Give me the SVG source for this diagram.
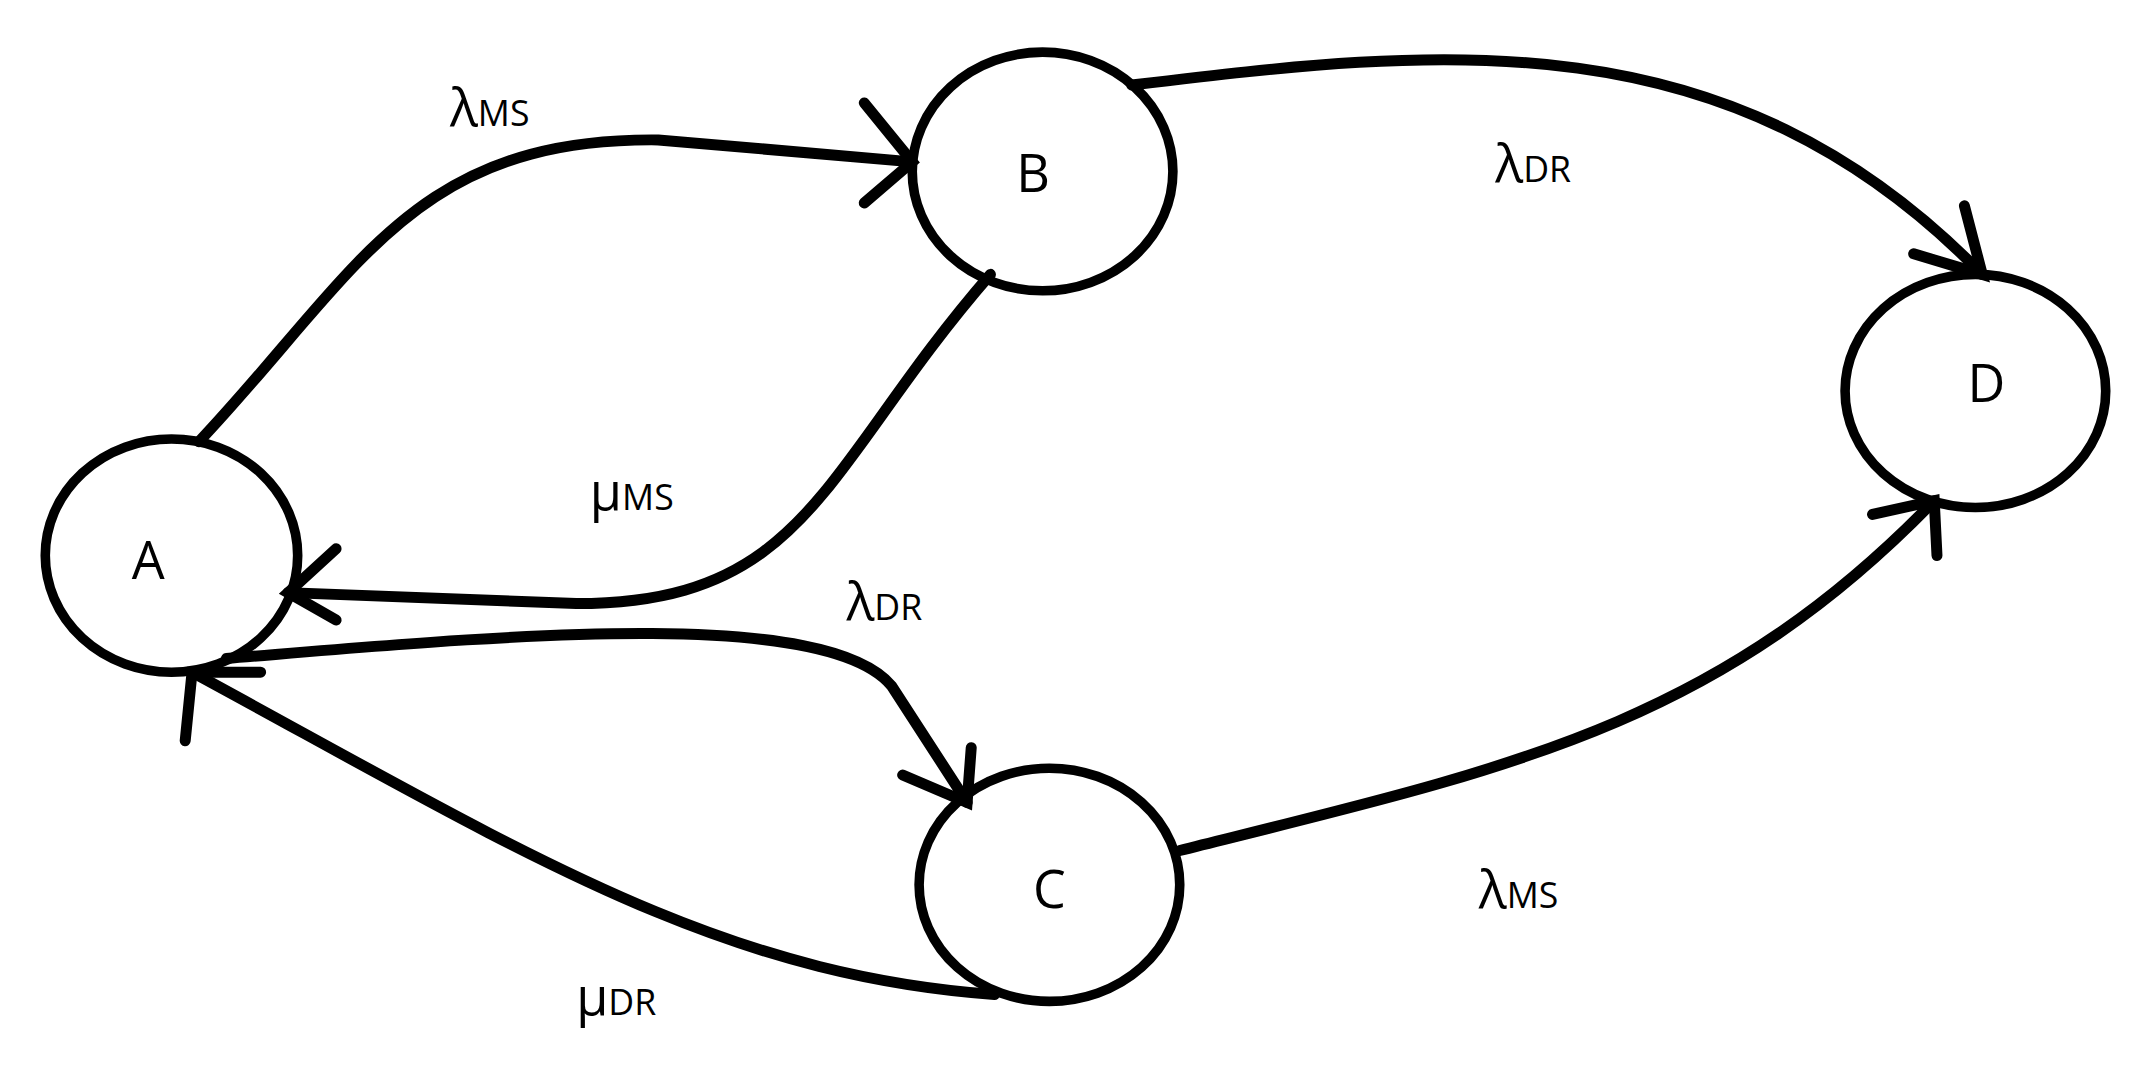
<svg xmlns="http://www.w3.org/2000/svg" width="2151" height="1078" viewBox="0 0 2151 1078">
<style>
.n{fill:none;stroke:#000;stroke-width:7}
.e{fill:none;stroke:#000;stroke-width:8;stroke-linecap:round}
.t{font-family:"Open Sans","Liberation Sans",sans-serif;font-size:38px;fill:#000}
.s{font-size:26px}
</style>
<rect width="2151" height="1078" fill="#fff"/>
<g transform="scale(1.3718)">
<g id="A"><ellipse class="n" cx="125" cy="405" rx="92" ry="85"/><text class="t" x="108" y="422" text-anchor="middle">A</text></g>
<g id="B"><ellipse class="n" cx="760" cy="125" rx="95" ry="87"/><text class="t" x="753" y="140" text-anchor="middle">B</text></g>
<g id="C"><ellipse class="n" cx="765" cy="645" rx="95" ry="85"/><text class="t" x="765" y="662" text-anchor="middle">C</text></g>
<g id="D"><ellipse class="n" cx="1440" cy="285" rx="95" ry="85"/><text class="t" x="1448" y="293" text-anchor="middle">D</text></g>
<g id="connectors">
<path class="e" d="M145,322 C260,200 300,100 480,102 L665,118"/>
<path class="e" d="M630,75 L665,118 L630,148"/>
<path class="e" d="M825,62 C1050,35 1260,10 1445,200"/>
<path class="e" d="M1432,150 L1445,200 L1395,185"/>
<path class="e" d="M722,200 C600,340 590,440 420,440 L210,432"/>
<path class="e" d="M245,400 L210,432 L245,452"/>
<path class="e" d="M165,480 C350,465 600,440 650,500 L705,585"/>
<path class="e" d="M708,545 L705,585 L658,565"/>
<path class="e" d="M725,725 C520,710 380,620 140,490"/>
<path class="e" d="M190,490 L140,490 L135,540"/>
<path class="e" d="M860,620 C1100,560 1250,530 1410,365"/>
<path class="e" d="M1365,375 L1410,365 L1412,405"/>
</g>
<g id="labels">
<text class="t" x="328" y="92">λ<tspan class="s">MS</tspan></text>
<text class="t" x="1090" y="133">λ<tspan class="s">DR</tspan></text>
<text class="t" x="430" y="372">μ<tspan class="s">MS</tspan></text>
<text class="t" x="617" y="452">λ<tspan class="s">DR</tspan></text>
<text class="t" x="1078" y="662">λ<tspan class="s">MS</tspan></text>
<text class="t" x="420" y="740">μ<tspan class="s">DR</tspan></text>
</g>
</g>
</svg>
